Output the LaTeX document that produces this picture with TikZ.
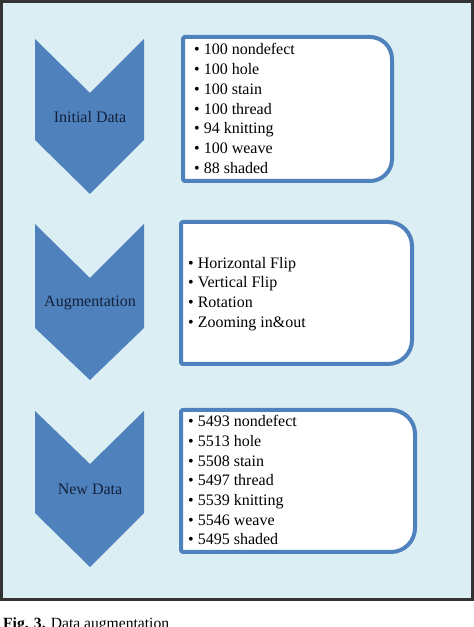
\documentclass[tikz,border=0pt]{standalone}
\usepackage{fontspec}
\setmainfont{Liberation Serif}
\definecolor{bgblue}{HTML}{DBEEF4}
\definecolor{accent}{HTML}{4F81BD}
\definecolor{labelcol}{HTML}{14213A}
\definecolor{framecol}{HTML}{333333}
\tikzset{
  chev/.style={fill=accent, draw=none},
  boxline/.style={draw=accent, line width=4pt, fill=white, line join=round},
  chevlabel/.style={text=labelcol, font=\fontsize{16}{19.7}\selectfont, inner sep=0pt},
  listtext/.style={text=black, font=\fontsize{16}{19.7}\selectfont, inner sep=0pt, anchor=base west},
}
\begin{document}
\begin{tikzpicture}[x=1pt,y=1pt]
\useasboundingbox (0,0) rectangle (474,627);
% frame
\draw[fill=bgblue, draw=framecol, line width=3pt] (1.5,625.5) rectangle (472.5,27);

% chevrons
\path[chev] (35,588) -- (90,534) -- (144,588) -- (144,487) -- (90,433) -- (35,487) -- cycle;
\path[chev] (35,403) -- (90,349) -- (144,403) -- (144,299) -- (90,247) -- (35,299) -- cycle;
\path[chev] (35,216) -- (90,163) -- (144,216) -- (144,114) -- (90,60) -- (35,114) -- cycle;

\node[chevlabel] (c1) at (90,510) {Initial Data};
\node[chevlabel] (c2) at (90,324) {Augmentation};
\node[chevlabel] (c3) at (90,138) {New Data};

% boxes (right corners rounded)
\newcommand{\rbox}[5]{% left, bottom, right, top, radius
  \draw[boxline] (#1+1.5,#2) -- (#3-#5,#2) arc (-90:0:#5) -- (#3,#4-#5) arc (0:90:#5) -- (#1+1.5,#4) arc (90:180:1.5) -- (#1,#2+1.5) arc (180:270:1.5) -- cycle;}
\rbox{183}{446}{392}{590}{22}
\rbox{181}{263}{412}{405}{24}
\rbox{181}{75}{415}{217}{24}

\node[listtext] (l1) at (194,572) {\begin{tabular}[t]{@{}l@{}}\textbullet\ 100 nondefect\\ \textbullet\ 100 hole\\ \textbullet\ 100 stain\\ \textbullet\ 100 thread\\ \textbullet\ 94 knitting\\ \textbullet\ 100 weave\\ \textbullet\ 88 shaded\end{tabular}};
\node[listtext] (l2) at (188,358.7) {\begin{tabular}[t]{@{}l@{}}\textbullet\ Horizontal Flip\\ \textbullet\ Vertical Flip\\ \textbullet\ Rotation\\ \textbullet\ Zooming in\&out\end{tabular}};
\node[listtext] (l3) at (188,200.3) {\begin{tabular}[t]{@{}l@{}}\textbullet\ 5493 nondefect\\ \textbullet\ 5513 hole\\ \textbullet\ 5508 stain\\ \textbullet\ 5497 thread\\ \textbullet\ 5539 knitting\\ \textbullet\ 5546 weave\\ \textbullet\ 5495 shaded\end{tabular}};

% caption
\node[anchor=base west, inner sep=0pt, font=\fontsize{15.6}{18}\selectfont] (cap) at (3,-1.5) {\textbf{Fig. 3.} Data augmentation};
\end{tikzpicture}
\end{document}
